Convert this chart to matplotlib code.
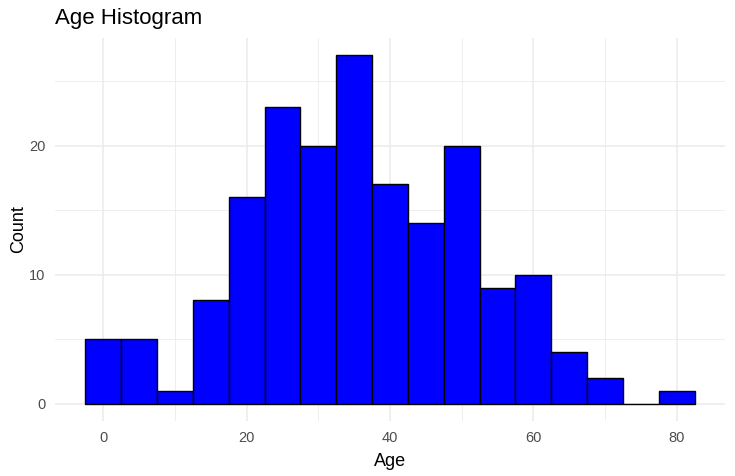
import matplotlib.pyplot as plt
from matplotlib.ticker import MultipleLocator

plt.rcParams['font.family'] = ['Liberation Sans', 'DejaVu Sans']

# Histogram bins (centers, width 5) and counts
bin_centers = [0, 5, 10, 15, 20, 25, 30, 35, 40, 45, 50, 55, 60, 65, 70, 75, 80]
counts = [5, 5, 1, 8, 16, 23, 20, 27, 17, 14, 20, 9, 10, 4, 2, 0, 1]
bin_width = 5

fig = plt.figure(figsize=(7.35, 4.76), dpi=100)
ax = fig.add_axes([55 / 735, 55 / 476, 670 / 735, 383 / 476])

ax.bar(bin_centers, counts, width=bin_width, color='#0000FF',
       edgecolor='black', linewidth=1.0, zorder=3)

ax.set_xlim(-6.75, 86.75)
ax.set_ylim(-1.35, 28.35)

ax.xaxis.set_major_locator(MultipleLocator(20))
ax.xaxis.set_minor_locator(MultipleLocator(10))
ax.yaxis.set_major_locator(MultipleLocator(10))
ax.yaxis.set_minor_locator(MultipleLocator(5))
ax.grid(which='major', color='#EBEBEB', linewidth=1.1, zorder=0)
ax.grid(which='minor', color='#EBEBEB', linewidth=0.6, zorder=0)

for s in ax.spines.values():
    s.set_visible(False)
ax.tick_params(which='both', length=0, labelsize=10.5, labelcolor='#4D4D4D', pad=7)

ax.set_title("Age Histogram", loc='left', fontsize=16, pad=10, x=0.0)
ax.set_xlabel("Age", fontsize=13, labelpad=6)
ax.set_ylabel("Count", fontsize=13, labelpad=1)

fig.savefig("out.png", dpi=100)
